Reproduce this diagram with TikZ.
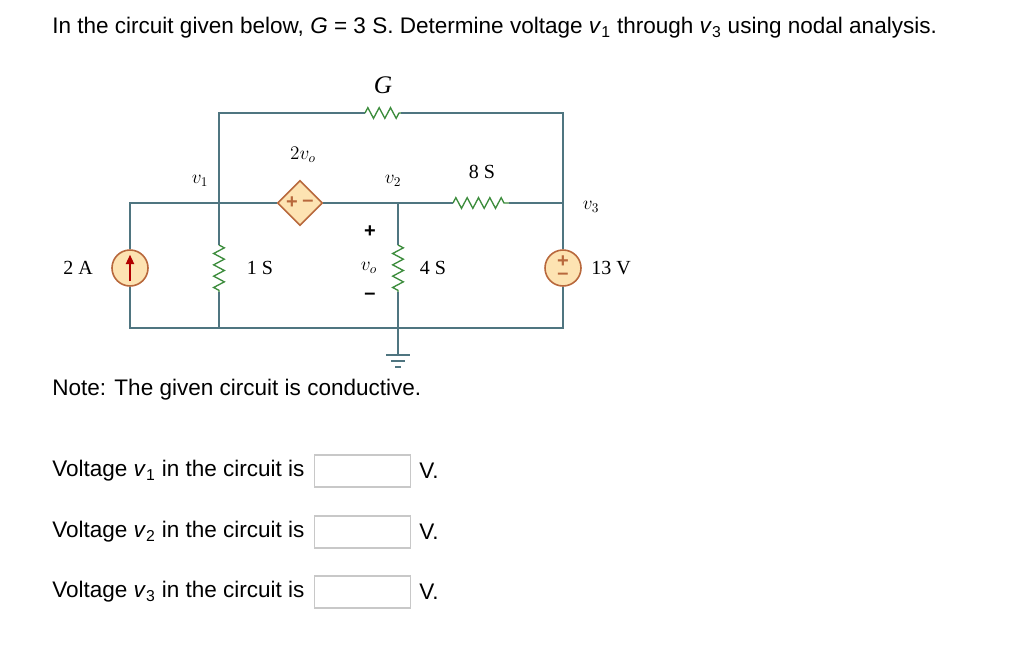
\documentclass[tikz,border=0pt]{standalone}
\usepackage{fontspec}
\setmainfont{Liberation Sans}
\newfontfamily\ser{Liberation Serif}
\usetikzlibrary{decorations.pathmorphing,shapes.geometric,arrows.meta}
\definecolor{wire}{HTML}{4F7580}
\definecolor{res}{HTML}{3C8C3C}
\definecolor{srcfill}{HTML}{FDE3B2}
\definecolor{srcline}{HTML}{B8683C}
\definecolor{boxc}{HTML}{C8C8C8}
\begin{document}
\begin{tikzpicture}[x=0.75pt,y=-0.75pt,
  w/.style={wire,line width=1.1pt},
  r/.style={res,line width=1pt,decorate,decoration={zigzag,segment length=8.5pt,amplitude=4pt}},
  src/.style={circle,draw=srcline,fill=srcfill,line width=1.2pt,minimum size=27pt,inner sep=0pt},
  dep/.style={diamond,draw=srcline,fill=srcfill,line width=1.2pt,minimum size=34pt,inner sep=0pt},
  sg/.style={font=\bfseries\fontsize{15}{15}\selectfont,text=srcline,inner sep=0pt},
  lab/.style={font=\ser\fontsize{15}{17}\selectfont,inner sep=1pt},
  vl/.style={font=\ser\itshape\fontsize{14}{16}\selectfont,inner sep=1pt},
  txt/.style={font=\fontsize{16.9}{19}\selectfont,anchor=west,inner sep=0pt},
  box/.style={draw=boxc,line width=0.8pt,minimum width=72pt,minimum height=24pt,inner sep=0pt}]
\useasboundingbox (0,0) rectangle (1024,650);
% coordinates
\coordinate (TL) at (219,113); \coordinate (TR) at (563,113);
\coordinate (ML) at (130,203); \coordinate (N1) at (219,203);
\coordinate (N2) at (398,203); \coordinate (N3) at (563,203);
\coordinate (BL) at (130,328); \coordinate (B1) at (219,328);
\coordinate (B2) at (398,328); \coordinate (BR) at (563,328);
\coordinate (Ga) at (365,113); \coordinate (Gb) at (401,113);
\coordinate (Sa) at (453,203); \coordinate (Sb) at (509,203);
\coordinate (R1a) at (219,245); \coordinate (R1b) at (219,292);
\coordinate (R4a) at (398,245); \coordinate (R4b) at (398,292);
\coordinate (GND) at (398,355);
\node[src] (I) at (130,268) {};
\node[src] (V) at (563,268) {};
\node[dep] (D) at (300,203) {};
% wires
\draw[w] (I.north) -- (ML) -- (N1) -- (D.west);
\draw[w] (D.east) -- (N2) -- (Sa);
\draw[w] (Sb) -- (N3) -- (V.north);
\draw[w] (I.south) -- (BL) -- (B1) -- (B2) -- (BR) -- (V.south);
\draw[w] (R1a) -- (N1) -- (TL) -- (Ga);
\draw[w] (Gb) -- (TR) -- (N3);
\draw[w] (R1b) -- (B1);
\draw[w] (R4a) -- (N2);
\draw[w] (R4b) -- (B2) -- (GND);
% resistors
\draw[r] (Ga) -- (Gb);
\draw[r] (Sa) -- (Sb);
\draw[r] (R1a) -- (R1b);
\draw[r] (R4a) -- (R4b);
% ground
\draw[w] (386,355) -- (410,355) (391,361) -- (405,361) (395,367) -- (401,367);
% source symbols
\draw[red!70!black,line width=1.4pt,-{Triangle[length=7pt,width=6pt]}] ([yshift=-10pt]I.center) -- ([yshift=10pt]I.center);
\node[sg] (vp) at ([yshift=5pt]V.center) {+};
\node[sg] (vm) at ([yshift=-6pt]V.center) {\textendash};
\node[sg] (dp) at ([xshift=-6pt]D.center) {+};
\node[sg] (dm) at ([xshift=6pt]D.center) {\textendash};
% labels
\node[lab,font=\ser\itshape\fontsize{19}{20}\selectfont] (gl) at (383,85) {G};
\node[lab] (l8) at (482,172) {8 S};
\node[lab] (l1) at (260,268) {1 S};
\node[lab] (l4) at (433,268) {4 S};
\node[lab] (l2a) at (78,268) {2 A};
\node[lab] (l13) at (611,268) {13 V};
\node[vl] (lv1) at (200,181) {$v_1$};
\node[vl] (lv2) at (393,181) {$v_2$};
\node[vl] (lv3) at (591,207) {$v_3$};
\node[vl] (ldep) at (303,155) {$2v_o$};
\node[vl] (lvo) at (369,268) {$v_o$};
\node[lab,font=\bfseries\fontsize{15}{15}\selectfont] (lp) at (370,232) {+};
\node[lab,font=\bfseries\fontsize{15}{15}\selectfont] (lm) at (370,296) {\textendash};
% texts
\node[txt] (title) at (52,28) {In the circuit given below, \textit{G} = 3 S. Determine voltage \textit{v}\textsubscript{1} through \textit{v}\textsubscript{3} using nodal analysis.};
\node[txt] (note) at (52,390) {Note: The given circuit is conductive.};
\foreach \i/\y in {1/471,2/532,3/592}{
  \node[txt] (q\i) at (52,\y) {Voltage \textit{v}\textsubscript{\i} in the circuit is};
  \node[box] (b\i) at (362.5,\y) {};
  \node[txt] (u\i) at (419,\y) {V.};
}
\end{tikzpicture}
\end{document}
